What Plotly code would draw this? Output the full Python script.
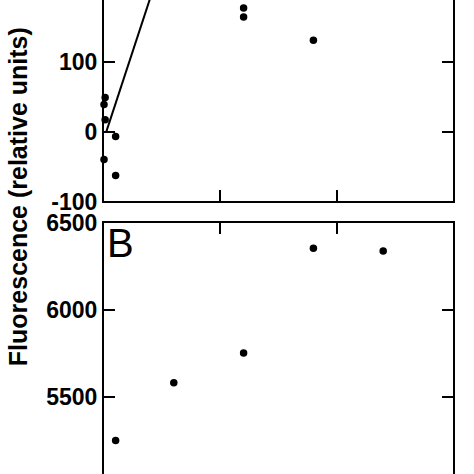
import plotly.graph_objects as go

# Panel A (top) data
a_x = [0.01, 0.0, 0.01, 0.1, 0.0, 0.1, 1.2, 1.2, 1.8]
a_y = [49, 39, 17, -7, -40, -63, 177, 164, 131]
# fitted line in panel A
line_x = [0.02, 0.45]
line_y = [0, 218]

# Panel B (bottom) data
b_x = [0.1, 0.6, 1.2, 1.8, 2.4]
b_y = [5247, 5580, 5751, 6353, 6337]

a_ticks = [-100, 0, 100]
b_ticks = [5500, 6000, 6500]
x_ticks = [1, 2]

FONT = "Liberation Sans"

fig = go.Figure()
fig.add_trace(go.Scatter(x=line_x, y=line_y, mode="lines",
                         line=dict(color="black", width=2),
                         xaxis="x", yaxis="y", showlegend=False))
fig.add_trace(go.Scatter(x=a_x, y=a_y, mode="markers",
                         marker=dict(color="black", size=7.5),
                         xaxis="x", yaxis="y", showlegend=False, cliponaxis=False))
fig.add_trace(go.Scatter(x=b_x, y=b_y, mode="markers",
                         marker=dict(color="black", size=7.5),
                         xaxis="x2", yaxis="y2", showlegend=False))

axis_common = dict(showgrid=False, zeroline=False, showline=True,
                   linecolor="black", linewidth=2, ticks="inside",
                   ticklen=11, tickwidth=2, tickcolor="black")

fig.update_layout(
    width=474, height=474,
    margin=dict(l=104, r=21, t=0, b=0, autoexpand=False),
    paper_bgcolor="white", plot_bgcolor="white",
    font=dict(family=FONT, color="black"),
    showlegend=False,
    xaxis=dict(domain=[0, 1], range=[0, 3], tickvals=x_ticks,
               showticklabels=False, anchor="y", mirror=False, **axis_common),
    yaxis=dict(domain=[0.575, 1], range=[-100, 188.5], tickvals=a_ticks,
               ticktext=[str(v) for v in a_ticks], anchor="x", mirror="ticks",
               tickfont=dict(size=23, family=FONT, weight="bold"), **axis_common),
    xaxis2=dict(domain=[0, 1], range=[0, 3], tickvals=x_ticks,
                showticklabels=False, anchor="y2", side="top", mirror=False,
                **axis_common),
    yaxis2=dict(domain=[0, 0.5302], range=[5055, 6500], tickvals=b_ticks,
                ticktext=[str(v) for v in b_ticks], anchor="x2", mirror="ticks",
                tickfont=dict(size=23, family=FONT, weight="bold"), **axis_common),
)

fig.add_annotation(text="Fluorescence (relative units)", textangle=-90,
                   xref="paper", yref="paper", x=-0.248, y=0.585,
                   xanchor="center", yanchor="middle", showarrow=False,
                   font=dict(size=25, family=FONT, weight="bold", color="black"))
fig.add_annotation(text="B", xref="paper", yref="paper", x=0.004, y=0.5386,
                   xanchor="left", yanchor="top", showarrow=False,
                   font=dict(size=40, family=FONT, color="black"))
# tick label 200, cut off at the top of the picture
fig.add_annotation(text="200", xref="paper", yref="y", x=-0.02, y=200,
                   xanchor="right", yanchor="middle", showarrow=False,
                   font=dict(size=23, family=FONT, weight="bold", color="black"))

fig.write_html("out.html",
               config={"displayModeBar": False},
               post_script="document.body.style.margin='0';"
                           "document.body.style.overflow='hidden';")
